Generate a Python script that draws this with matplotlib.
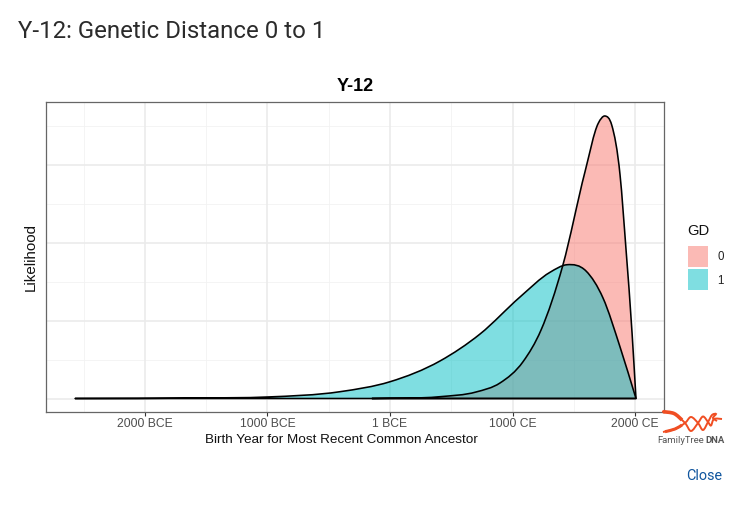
import numpy as np
import matplotlib
matplotlib.use("Agg")
import matplotlib.pyplot as plt
from matplotlib.patches import Rectangle, PathPatch
from matplotlib.path import Path

W, H = 756, 512
PX = 0.1225          # pixels per year
years0 = [-147, 408, 702, 898, 1086, 1233, 1410, 1592, 1700, 1755, 1810, 1878, 1927, 1976, 2008]
like0 = [0, 0.0000231, 0.0000833, 0.000199, 0.000472, 0.000878, 0.001703, 0.002908, 0.003528, 0.003622, 0.003506, 0.002865, 0.001904, 0.000840, 0]

years1 = [-2571, -1551, -1004, -408, 0, 408, 735, 1061, 1306, 1445, 1600, 1739, 1878, 2008]
like1 = [0, 0.0000064, 0.0000192, 0.0000872, 0.000215, 0.000481, 0.000827, 0.001301, 0.001618, 0.001715, 0.001635, 0.001288, 0.000660, 0]

xticks = [-2000, -1000, 0, 1000, 2000]
xticklabels = ["2000 BCE", "1000 BCE", "1 BCE", "1000 CE", "2000 CE"]
xminor = [-2500, -1500, -500, 500, 1500]
ymajor = [0, 0.001, 0.002, 0.003]
yminor = [0.0005, 0.0015, 0.0025, 0.0035]
legend_labels = ["0", "1"]
colors = ["#F8766D", "#00BFC4"]


def smooth_path(xs, ys):
    """Closed outline through the points, as cubic Bezier segments."""
    x = np.asarray(xs, float)
    y = np.asarray(ys, float)
    dx = np.diff(x)
    s = np.diff(y) / dx
    m = np.zeros_like(x)
    m[1:-1] = (s[:-1] * dx[1:] + s[1:] * dx[:-1]) / (dx[:-1] + dx[1:])
    m[0], m[-1] = s[0], s[-1]
    verts = [(x[0], y[0])]
    codes = [Path.MOVETO]
    for i in range(len(dx)):
        verts += [(x[i] + dx[i] / 3, y[i] + m[i] * dx[i] / 3),
                  (x[i + 1] - dx[i] / 3, y[i + 1] - m[i + 1] * dx[i] / 3),
                  (x[i + 1], y[i + 1])]
        codes += [Path.CURVE4] * 3
    verts += [(x[0], y[0]), (x[0], y[0])]
    codes += [Path.LINETO, Path.CLOSEPOLY]
    return Path(verts, codes)


def catmull(pts):
    p = np.asarray(pts, float)
    q = np.vstack([p[0], p, p[-1]])
    verts = [tuple(p[0])]
    codes = [Path.MOVETO]
    for i in range(1, len(q) - 2):
        verts += [tuple(q[i] + (q[i + 1] - q[i - 1]) / 6),
                  tuple(q[i + 1] - (q[i + 2] - q[i]) / 6),
                  tuple(q[i + 1])]
        codes += [Path.CURVE4] * 3
    return Path(verts, codes)


plt.rcParams["font.family"] = ["Liberation Sans", "DejaVu Sans"]
fig = plt.figure(figsize=(W / 100, H / 100), dpi=100)


def rect(l, t, r, b):
    return [l / W, 1 - b / H, (r - l) / W, (b - t) / H]


ax = fig.add_axes(rect(46, 102, 664, 412))
ax.set_xlim((46 - 390) / PX, (664 - 390) / PX)
ax.set_ylim(-(412 - 398.5) / 78000, (398.5 - 102) / 78000)

for v in xminor:
    ax.axvline(v, color="#F2F2F2", lw=0.6, zorder=0)
for v in yminor:
    ax.axhline(v, color="#F2F2F2", lw=0.6, zorder=0)
for v in xticks:
    ax.axvline(v, color="#EBEBEB", lw=1.2, zorder=0)
for v in ymajor:
    ax.axhline(v, color="#EBEBEB", lw=1.2, zorder=0)

paths = [smooth_path(years0, like0), smooth_path(years1, like1)]
for i, p in enumerate(paths):
    ax.add_patch(PathPatch(p, facecolor=colors[i], alpha=0.5, edgecolor="none", zorder=2 + i))
for p in paths:
    ax.add_patch(PathPatch(p, facecolor="none", edgecolor="black", lw=1.15, zorder=5, joinstyle="round"))

ax.set_xticks(xticks)
ax.set_xticklabels(xticklabels, fontsize=8.7, color="#4D4D4D")
ax.set_yticks([])
ax.tick_params(axis="x", length=3, width=0.8, color="#333333", pad=1.5)
for s in ax.spines.values():
    s.set_color("#666666")
    s.set_linewidth(0.9)
ax.set_title("Y-12", fontsize=13, fontweight="bold", pad=8)
fig.text(341.5 / W, 1 - 440 / H, "Birth Year for Most Recent Common Ancestor", fontsize=9.7, ha="center", va="center", color="#111111")
fig.text(30.5 / W, 1 - 257 / H, "Likelihood", fontsize=10.9, rotation=90, ha="center", va="center", color="#111111")

fig.text(18 / W, 1 - 31 / H, "Y-12: Genetic Distance 0 to 1", fontsize=17.3, fontfamily="Roboto",
         color="#2B2B2B", va="center", ha="left")
fig.text(687 / W, 1 - 231 / H, "GD", fontsize=10.6, va="center", ha="left", color="#111111")
for i, lab in enumerate(legend_labels):
    top = 246 + 23 * i
    fig.add_artist(Rectangle((688 / W, 1 - (top + 21) / H), 20 / W, 21 / H, transform=fig.transFigure,
                             facecolor=colors[i], alpha=0.5, edgecolor="none"))
    fig.text(717 / W, 1 - (top + 11.5) / H, lab, fontsize=8.3, va="center", ha="left", color="#222222")

fig.text(686 / W, 1 - 476.5 / H, "Close", fontsize=10.4, fontfamily="Roboto", color="#0F559E", va="center", ha="left")
fig.text(657.5 / W, 1 - 440.5 / H, "FamilyTree", fontsize=6.8, fontfamily="Roboto", color="#555555", va="center", ha="left")
fig.text(705.5 / W, 1 - 440.5 / H, "DNA", fontsize=6.8, fontfamily="Roboto", fontweight="bold", color="#555555", va="center", ha="left")

# logo helix drawn in pixel coordinates
logo = fig.add_axes([0, 0, 1, 1], facecolor="none", zorder=10)
logo.set_xlim(0, W)
logo.set_ylim(H, 0)
logo.axis("off")
strand_a = catmull([(662, 411.5), (674, 413.5), (685, 423), (691, 431), (698, 423), (703, 416.5), (708, 422),
                    (711, 425.5), (714, 419), (722, 419)])
strand_b = catmull([(663, 432), (675, 429), (685, 423), (691, 417), (698, 423), (703, 430), (708, 422),
                    (712, 415), (716, 414), (713, 418), (717, 421)])
logo.add_patch(PathPatch(strand_a, facecolor="none", edgecolor="#F04E23", lw=1.4))
logo.add_patch(PathPatch(strand_b, facecolor="none", edgecolor="#F04E23", lw=1.4))
logo.add_patch(PathPatch(catmull([(663, 411.7), (674, 413.5), (682, 420)]), facecolor="none", edgecolor="#F04E23", lw=2.6))
logo.add_patch(PathPatch(catmull([(665, 431.7), (675, 429), (682, 425)]), facecolor="none", edgecolor="#F04E23", lw=2.2))

fig.savefig("out.png", dpi=100)
